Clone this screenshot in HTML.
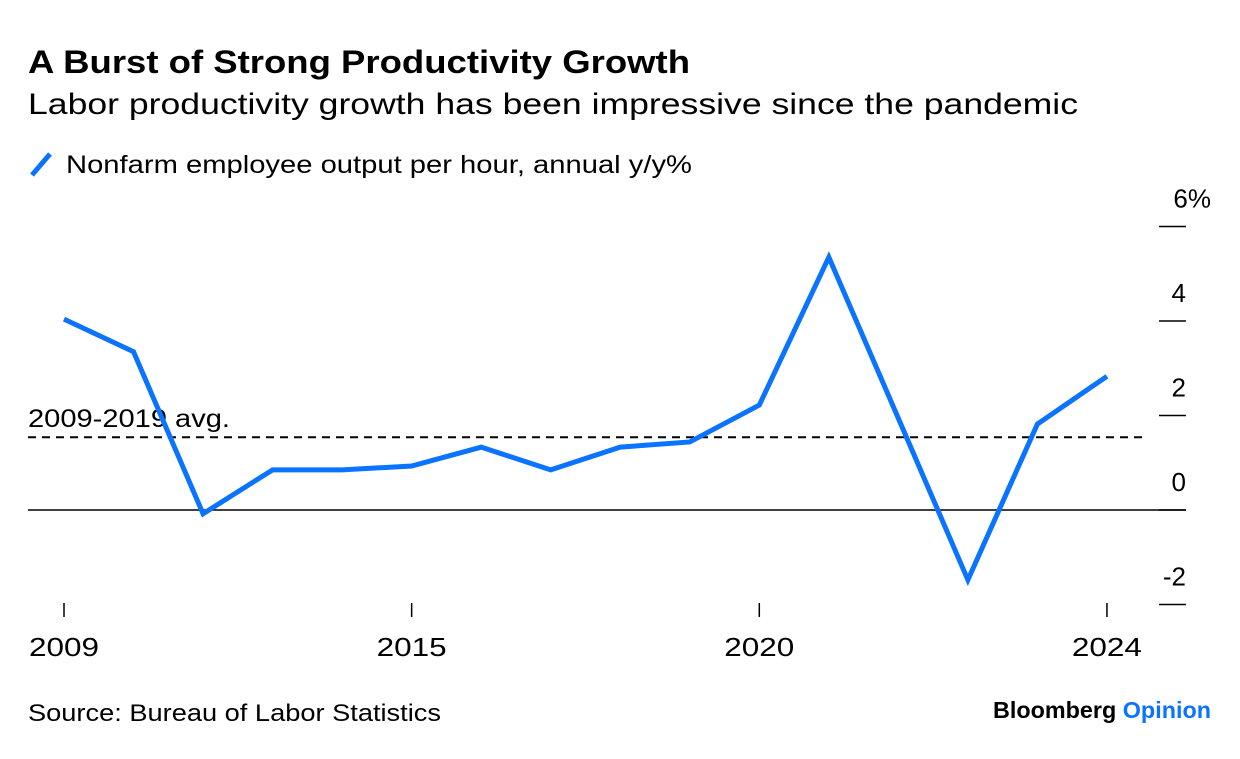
<!DOCTYPE html>
<html><head><meta charset="utf-8"><style>
body{margin:0;background:#fff;width:1240px;height:754px;overflow:hidden;font-family:"Liberation Sans",sans-serif;}
</style></head><body>
<svg width="1240" height="754" xmlns="http://www.w3.org/2000/svg" font-family="Liberation Sans, sans-serif">
<text x="28" y="73" font-size="32" font-weight="bold" fill="#000" textLength="662" lengthAdjust="spacingAndGlyphs">A Burst of Strong Productivity Growth</text>
<text x="28" y="114" font-size="30" fill="#000" textLength="1050" lengthAdjust="spacingAndGlyphs">Labor productivity growth has been impressive since the pandemic</text>
<line x1="32" y1="175" x2="50" y2="154" stroke="#0a73ff" stroke-width="5"/>
<text x="66" y="173" font-size="25" fill="#000" textLength="626" lengthAdjust="spacingAndGlyphs">Nonfarm employee output per hour, annual y/y%</text>
<g id="axes"></g>
<g id="marks"></g>
<text x="28" y="721" font-size="24" fill="#000" textLength="413" lengthAdjust="spacingAndGlyphs">Source: Bureau of Labor Statistics</text>
<text x="993" y="718" font-size="23" font-weight="bold" textLength="218" lengthAdjust="spacingAndGlyphs"><tspan fill="#000">Bloomberg </tspan><tspan fill="#0a73ff">Opinion</tspan></text>
</svg>
<script>
const years = [2009,2010,2011,2012,2013,2014,2015,2016,2017,2018,2019,2020,2021,2022,2023,2024];
const values = [4.04,3.35,-0.08,0.85,0.85,0.93,1.33,0.85,1.33,1.44,2.22,5.35,1.94,-1.48,1.82,2.83];
const avgValue = 1.54;
const yTicks = [6,4,2,0,-2];
const yTickLabels = ["6%","4","2","0","-2"];
const xTicks = [2009,2014,2019,2024];
const xTickLabels = ["2009","2015","2020","2024"];
const NS="http://www.w3.org/2000/svg";
function xs(v){return 64+(v-2009)*69.53;}
function ys(v){return 510-v*47.25;}
function mk(tag,attrs,parent){const e=document.createElementNS(NS,tag);for(const k in attrs)e.setAttribute(k,attrs[k]);parent.appendChild(e);return e;}
const ax=document.getElementById('axes'), mg=document.getElementById('marks');
yTicks.forEach((t,i)=>{
  const l=mk('line',{x1:1159,x2:1186,y1:ys(t),y2:ys(t),stroke:'#000','stroke-width':1.5},ax);
  
  
  const tx=mk('text',{x:1186,y:ys(t)-19,'font-size':26,'text-anchor':'end',fill:'#000'},ax);
  tx.textContent=yTickLabels[i];
  if(i===0){tx.setAttribute('x',1211);}
  
  
});
xTicks.forEach((t,i)=>{
  const l=mk('line',{x1:xs(t),x2:xs(t),y1:603,y2:617,stroke:'#000','stroke-width':1.5},ax);
  
  
  const tx=mk('text',{x:xs(t),y:656,'font-size':26,'text-anchor':'middle',fill:'#000',textLength:70,lengthAdjust:'spacingAndGlyphs'},ax);
  tx.textContent=xTickLabels[i];
  
  
});
const zl=mk('line',{x1:28,x2:1186,y1:ys(0),y2:ys(0),stroke:'#000','stroke-width':1.5},ax);


const al=mk('line',{x1:28,x2:1145,y1:ys(avgValue),y2:ys(avgValue),stroke:'#000','stroke-width':2,'stroke-dasharray':'8,6'},ax);


const at=mk('text',{x:28,y:ys(avgValue)-10,'font-size':25,fill:'#000',textLength:202,lengthAdjust:'spacingAndGlyphs'},ax);
at.textContent='2009-2019 avg.';


const pts=years.map((y,i)=>xs(y)+','+ys(values[i])).join(' ');
const pl=mk('polyline',{points:pts,fill:'none',stroke:'#0a73ff','stroke-width':5,'stroke-linejoin':'miter'},mg);


</script>
</body></html>
